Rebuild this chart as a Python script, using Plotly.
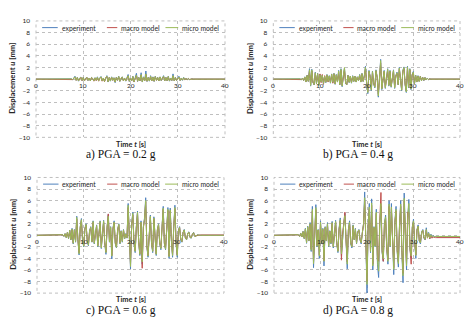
import plotly.graph_objects as go

# ---------------- data ----------------
# sampling grid: t = 0, then 5.00 ... 35.00 s every 0.25 s, then 40
TIME = [0.0] + [5.0 + 0.25 * i for i in range(121)] + [40.0]

# PGA = 0.2 g
A_EXP = [0,
         0, 0, 0, 0, 0, 0, 0, 0,
         0, 0, 0.05, -0.1, 0.2, 0.5, -0.2, 0.3,
         -0.35, 0.2, 0.35, -0.25, 0.3, -0.3, 0.15, 0.35,
         -0.25, 0.2, -0.3, 0.3, 0.1, -0.3, 0.25, -0.2,
         0.4, -0.3, 0.2, 0.45, -0.3, 0.2, -0.4, 0.3,
         0.6, -0.5, 0.3, -0.35, 0.4, -0.2, 0.25, -0.6,
         0.3, -0.2, 0.5, -0.4, 0.2, 0.4, -0.3, 0.2,
         -0.35, 0.3, 0.8, -0.4, 0.2, -0.3, 0.5, -0.5,
         0.3, 1.0, -0.4, 0.3, -0.3, 1.1, -0.5, 0.4,
         -0.3, 1.4, -0.4, 0.3, -0.35, 0.6, -0.3, 0.4,
         -0.4, 0.5, -0.2, 0.3, -0.3, 0.4, -0.25, 0.2,
         0.6, -0.3, 0.3, -0.3, 0.5, -0.35, 0.2, -0.25,
         0.9, -0.3, 0.3, -0.25, 0.2, 0.5, -0.25, 0.2,
         -0.2, 0.3, -0.15, 0.15, -0.1, 0.15, -0.1, 0.05,
         0.05, 0, 0, 0, 0, 0, 0, 0,
         0, 0]
A_MACRO = [0,
           0, 0, 0, 0, 0, 0, 0, 0,
           0, 0, 0.03, -0.08, 0.15, 0.3, -0.2, 0.25,
           -0.3, 0.15, 0.3, -0.25, 0.25, -0.3, 0.1, 0.3,
           -0.2, 0.15, -0.25, 0.25, 0.1, -0.35, 0.2, -0.25,
           0.3, -0.35, 0.15, 0.35, -0.35, 0.15, -0.45, 0.25,
           0.45, -0.4, 0.25, -0.3, 0.35, -0.2, 0.2, -0.5,
           0.25, -0.2, 0.4, -0.35, 0.15, 0.3, -0.3, 0.15,
           -0.3, 0.25, 0.55, -0.35, 0.15, -0.3, 0.4, -0.45,
           0.25, 0.6, -0.35, 0.25, -0.3, 0.7, -0.4, 0.3,
           -0.3, 0.8, -0.35, 0.25, -0.3, 0.45, -0.3, 0.3,
           -0.35, 0.4, -0.2, 0.25, -0.3, 0.35, -0.2, 0.15,
           0.45, -0.25, 0.25, -0.25, 0.4, -0.3, 0.15, -0.2,
           0.5, -0.25, 0.25, -0.2, 0.15, 0.3, -0.2, 0.15,
           -0.15, 0.2, -0.1, 0.1, -0.08, 0.1, -0.05, 0.03,
           0.02, 0, 0, 0, 0, 0, 0, 0,
           0, 0]
A_MICRO = [0,
           0, 0, 0, 0, 0, 0, 0, 0,
           0, 0, 0.04, -0.09, 0.18, 0.4, -0.2, 0.28,
           -0.3, 0.18, 0.3, -0.22, 0.28, -0.28, 0.12, 0.32,
           -0.22, 0.18, -0.28, 0.28, 0.1, -0.3, 0.22, -0.2,
           0.35, -0.3, 0.18, 0.4, -0.3, 0.18, -0.4, 0.28,
           0.5, -0.45, 0.28, -0.32, 0.35, -0.2, 0.22, -0.5,
           0.28, -0.2, 0.45, -0.35, 0.18, 0.35, -0.28, 0.18,
           -0.3, 0.28, 0.6, -0.35, 0.18, -0.28, 0.45, -0.45,
           0.28, 0.7, -0.35, 0.28, -0.3, 0.8, -0.45, 0.35,
           -0.3, 0.9, -0.35, 0.28, -0.32, 0.5, -0.3, 0.35,
           -0.35, 0.45, -0.2, 0.28, -0.3, 0.38, -0.22, 0.18,
           0.5, -0.28, 0.28, -0.28, 0.45, -0.3, 0.18, -0.22,
           0.6, -0.28, 0.28, -0.22, 0.18, 0.35, -0.22, 0.18,
           -0.18, 0.25, -0.12, 0.12, -0.08, 0.12, -0.08, 0.04,
           0.03, 0, 0, 0, 0, 0, 0, 0,
           0, 0]

# PGA = 0.4 g
B_EXP = [0,
         0, 0, 0, 0.05, -0.1, 0.2, -0.25, 0.4,
         -0.5, 0.7, -0.4, 1.8, -1.2, 1.7, -0.6, -1.0,
         1.2, -0.8, 1.0, -1.1, 0.8, -0.5, 0.7, -0.8,
         0.5, -0.6, 0.8, -0.4, 0.6, -0.7, 0.9, -0.6,
         1.0, -0.9, 0.8, -0.5, 1.5, -1.0, 1.8, -1.3,
         0.6, 1.9, -0.8, -1.0, 0.7, -0.6, 0.5, -0.7,
         0.6, -0.4, 0.5, -0.5, 0.4, -0.3, 0.8, -0.5,
         1.0, -0.4, 0.6, 2.2, -0.8, -2.5, 1.5, 0.5,
         -2.0, 1.4, -0.8, -1.5, 1.6, 0.4, -3.1, 1.0,
         3.4, -1.8, 0.6, 1.5, -1.6, 0.8, 1.8, -1.2,
         1.5, -1.4, 0.5, 1.6, -1.6, 0.6, 1.2, -1.0,
         2.0, -0.8, -2.0, 1.5, 2.1, -1.0, -2.3, 2.2,
         -1.5, 1.8, -1.8, 0.8, 1.3, -0.8, 0.7, -0.5,
         0.6, -0.4, 0.5, -0.3, 0.35, -0.25, 0.3, -0.15,
         0.2, -0.1, 0.05, 0, 0, 0, 0, 0,
         0, 0]
B_MACRO = [0,
           0, 0, 0, 0.04, -0.08, 0.15, -0.2, 0.35,
           -0.45, 0.6, -0.35, 1.4, -1.0, 1.4, -0.5, -0.9,
           1.0, -0.7, 0.9, -1.0, 0.9, -0.6, 0.8, -0.9,
           0.6, -0.5, 0.7, -0.5, 0.5, -0.6, 0.8, -0.7,
           0.9, -0.8, 0.7, -0.5, 1.2, -0.9, 1.5, -1.1,
           0.5, 1.6, -0.7, -0.9, 0.6, -0.5, 0.45, -0.6,
           0.5, -0.35, 0.45, -0.45, 0.35, -0.25, 0.7, -0.45,
           0.9, -0.35, 0.5, 1.8, -0.7, -2.1, 1.3, 0.4,
           -1.7, 1.2, -0.7, -1.3, 1.4, 0.3, -2.6, 0.9,
           2.8, -1.6, 0.5, 1.3, -1.4, 0.7, 1.5, -1.0,
           1.3, -1.2, 0.4, 1.4, -1.4, 0.5, 1.0, -0.9,
           1.7, -0.7, -1.8, 1.3, 1.8, -0.9, -2.0, 1.9,
           -1.3, 1.6, -1.6, 0.7, 1.1, -0.7, 0.6, -0.45,
           0.5, -0.35, 0.45, -0.25, 0.3, -0.2, 0.25, -0.12,
           0.15, -0.08, 0.04, 0, 0, 0, 0, 0,
           0, 0]
B_MICRO = [0,
           0, 0, 0, 0.05, -0.09, 0.18, -0.22, 0.38,
           -0.48, 0.65, -0.38, 1.6, -1.1, 1.6, -0.55, -0.95,
           1.1, -0.75, 0.95, -1.05, 0.75, -0.5, 0.65, -0.75,
           0.5, -0.55, 0.75, -0.4, 0.55, -0.65, 0.85, -0.55,
           0.95, -0.85, 0.75, -0.5, 1.4, -0.95, 1.7, -1.2,
           0.55, 2.0, -0.75, -0.95, 0.65, -0.55, 0.5, -0.65,
           0.55, -0.4, 0.5, -0.5, 0.4, -0.3, 0.75, -0.5,
           0.95, -0.4, 0.55, 2.0, -0.75, -2.3, 1.4, 0.45,
           -1.9, 1.3, -0.75, -1.4, 1.5, 0.35, -2.9, 0.95,
           3.2, -1.7, 0.55, 1.4, -1.5, 0.75, 1.7, -1.1,
           1.4, -1.3, 0.45, 1.5, -1.5, 0.55, 1.1, -0.95,
           1.9, -0.75, -1.9, 1.4, 2.0, -0.95, -2.2, 2.1,
           -1.4, 1.7, -1.7, 0.75, 1.2, -0.75, 0.65, -0.5,
           0.55, -0.4, 0.45, -0.3, 0.3, -0.2, 0.25, -0.15,
           0.15, -0.1, 0.05, 0, 0, 0, 0, 0,
           0, 0]

# PGA = 0.6 g
C_EXP = [0,
         0, 0, 0.1, -0.2, 0.3, -0.4, 0.5, -0.6,
         0.9, -0.8, 1.2, -1.5, 1.0, -1.2, 3.3, -0.8,
         -3.4, 1.5, 2.9, -1.0, -2.0, 1.2, 2.0, -1.0,
         -1.8, 0.8, 1.5, -1.2, 2.5, -1.5, 0.6, 1.8,
         -2.0, 1.0, 2.5, -2.3, 0.8, 2.6, -1.5, -3.3,
         1.5, 3.6, -1.2, 1.5, -4.1, 1.2, 2.5, -1.5,
         -2.2, 1.0, 2.0, -1.5, 0.8, -1.2, 1.0, -0.6,
         0.3, -0.5, 5.5, -1.5, -5.8, 2.0, 4.0, -1.5,
         -3.0, 1.5, 4.2, -1.2, -3.5, 2.5, -5.0, 1.5,
         3.0, 6.5, -2.0, -3.8, 1.5, 3.5, -1.5, -3.0,
         3.2, -1.0, -3.5, 1.0, 2.0, -1.5, -2.5, 1.5,
         5.0, -1.5, -2.5, 1.2, 4.8, -4.0, 4.7, -1.0,
         -3.8, 1.5, 5.2, -1.5, -3.8, 0.8, 1.5, -0.8,
         -1.2, 0.5, 1.0, -0.5, -0.8, 0.4, 0.6, -0.4,
         -0.5, 0.2, 0.5, -0.2, -0.2, 0.1, 0, 0,
         0, 0]
C_MACRO = [0,
           0, 0, 0.08, -0.15, 0.25, -0.35, 0.45, -0.5,
           0.8, -0.7, 1.0, -1.3, 0.9, -1.0, 2.8, -0.7,
           -3.0, 1.3, 2.6, -0.9, -1.8, 1.1, 1.8, -0.9,
           -1.6, 0.7, 1.3, -1.1, 2.2, -1.3, 0.5, 1.6,
           -1.8, 0.9, 2.2, -2.0, 0.7, 2.3, -1.3, -2.9,
           1.4, 3.7, -1.1, 1.3, -3.5, 1.1, 2.2, -1.3,
           -2.0, 0.9, 1.8, -1.3, 0.7, -1.0, 0.9, -0.5,
           0.2, -0.4, 4.8, -1.3, -5.0, 1.8, 3.5, -1.3,
           -2.7, 1.3, 3.8, -1.1, -3.2, 2.2, -5.7, 1.3,
           2.7, 5.8, -1.8, -3.5, 1.3, 3.2, -1.3, -2.7,
           2.9, -0.9, -3.2, 0.9, 1.8, -1.3, -2.2, 1.3,
           4.5, -1.3, -2.3, 1.1, 4.3, -3.6, 4.2, -0.9,
           -3.4, 1.3, 4.6, -1.3, -3.4, 0.7, 1.4, -0.7,
           -1.1, 0.5, 0.9, -0.5, -0.7, 0.35, 0.5, -0.35,
           -0.4, 0.2, 0.4, -0.15, -0.1, 0.05, 0.05, 0.05,
           0.05, 0.05]
C_MICRO = [0,
           0, 0, 0.1, -0.18, 0.28, -0.38, 0.48, -0.55,
           0.85, -0.75, 1.1, -1.4, 0.95, -1.1, 3.1, -0.75,
           -3.2, 1.4, 2.7, -0.95, -1.9, 1.15, 1.9, -0.95,
           -1.7, 0.75, 1.4, -1.15, 2.4, -1.4, 0.55, 1.7,
           -1.9, 0.95, 2.4, -2.2, 0.75, 2.5, -1.4, -3.0,
           1.45, 3.3, -1.15, 1.4, -3.6, 1.15, 2.3, -1.4,
           -2.1, 0.95, 1.9, -1.4, 0.75, -1.1, 0.95, -0.55,
           0.25, -0.45, 5.2, -1.4, -5.4, 1.9, 3.8, -1.4,
           -2.8, 1.4, 4.0, -1.15, -3.3, 2.3, -4.6, 1.4,
           2.8, 6.0, -1.9, -3.6, 1.4, 3.3, -1.4, -2.8,
           3.0, -0.95, -3.3, 0.95, 1.9, -1.4, -2.3, 1.4,
           4.7, -1.4, -2.4, 1.15, 4.5, -3.7, 4.4, -0.95,
           -3.5, 1.4, 4.8, -1.4, -3.5, 0.75, 1.4, -0.75,
           -1.1, 0.5, 0.95, -0.5, -0.75, 0.4, 0.55, -0.4,
           -0.45, 0.2, 0.45, -0.18, -0.18, 0.08, 0, 0,
           0, 0]

# PGA = 0.8 g
D_EXP = [0,
         0, 0.1, -0.2, 0.4, -0.3, 0.7, -0.6, 1.2,
         -1.4, 1.6, -1.0, 2.2, -2.8, 5.0, -5.6, 1.5,
         5.3, -2.0, 1.0, -4.0, 2.5, -1.5, 1.2, -5.3,
         1.5, -1.0, 2.2, -2.0, 0.8, -1.5, 2.4, -2.2,
         1.0, 2.6, -1.5, -3.0, 1.2, 3.0, -3.5, 0.5,
         2.0, 3.8, -1.0, -5.8, 1.0, 2.5, -1.5, -2.2,
         1.8, -0.8, 1.2, -1.5, 0.6, 1.0, -0.8, -1.5,
         0.5, 2.0, 7.5, -2.0, -10.0, 2.0, 5.5, -3.0,
         6.3, -6.0, 1.5, -2.0, 4.5, -5.0, -7.3, 2.0,
         5.0, -3.0, -4.5, 2.0, 3.5, -2.5, -5.0, 6.0,
         -2.0, 5.5, -3.0, -6.8, 2.5, 5.0, -3.0, -5.5,
         2.0, 6.0, -3.0, -8.2, 7.3, -2.0, -6.0, 3.0,
         6.2, -2.5, -4.0, 1.5, 2.8, -1.2, -4.0, 1.0,
         1.8, -1.0, -1.5, 0.6, 1.0, -0.5, -0.8, 1.3,
         -0.4, 0.5, -0.6, 0.2, -0.4, 0.0, -0.3, -0.2,
         -0.3, -0.3]
D_MACRO = [0,
           0, 0.08, -0.15, 0.3, -0.25, 0.6, -0.5, 1.0,
           -1.2, 1.4, -0.9, 1.9, -2.4, 4.2, -4.6, 1.3,
           4.4, -1.8, 0.9, -3.4, 2.1, -1.3, 1.0, -4.4,
           1.3, -0.9, 1.9, -1.8, 0.7, -1.3, 2.1, -1.9,
           0.9, 2.3, -1.3, -2.7, 1.0, 2.5, -4.3, 0.4,
           2.0, 4.0, -1.0, -4.6, 0.9, 2.1, -1.3, -1.9,
           1.6, -0.7, 1.0, -1.3, 0.5, 0.9, -0.7, -1.2,
           0.4, 1.8, 6.0, -1.8, -8.0, 1.8, 4.6, -2.6,
           5.2, -5.0, 1.3, -1.8, 3.8, -4.2, -4.5, 2.5,
           7.4, -2.6, -4.5, 1.8, 3.0, -2.2, -4.2, 5.0,
           -1.8, 4.6, -2.6, -5.6, 2.2, 4.2, -2.6, -4.6,
           1.8, 5.0, -2.6, -6.6, 6.0, -1.8, -5.0, 4.0,
           4.0, -2.2, -5.0, 1.3, 2.4, -1.0, -3.4, 0.9,
           1.5, -0.9, -1.2, 0.5, 0.8, -0.5, -0.7, 0.9,
           -0.5, 0.3, -0.6, -0.1, -0.5, -0.3, -0.4, -0.4,
           -0.4, -0.4]
D_MICRO = [0,
           0, 0.1, -0.18, 0.35, -0.28, 0.65, -0.55, 1.1,
           -1.3, 1.5, -0.95, 2.0, -2.6, 4.5, -4.9, 1.4,
           4.8, -1.9, 0.95, -3.6, 2.3, -1.4, 1.1, -4.5,
           1.4, -0.95, 2.0, -1.9, 0.75, -1.4, 2.2, -2.0,
           0.95, 2.4, -1.4, -2.8, 1.1, 2.7, -3.2, 0.45,
           1.9, 3.4, -0.95, -5.0, 0.95, 2.3, -1.4, -2.0,
           1.7, -0.75, 1.1, -1.4, 0.55, 0.95, -0.75, -1.3,
           0.45, 1.9, 6.5, -1.9, -8.5, 1.9, 4.9, -2.8,
           5.6, -5.3, 1.4, -1.9, 4.0, -4.5, -6.2, 2.2,
           5.5, -2.8, -4.1, 1.9, 3.2, -2.3, -4.5, 5.4,
           -1.9, 4.9, -2.8, -5.9, 2.3, 4.5, -2.8, -4.9,
           1.9, 5.4, -2.8, -7.0, 6.4, -1.9, -5.3, 3.2,
           5.5, -2.3, -3.6, 1.4, 2.5, -1.1, -3.5, 0.95,
           1.6, -0.95, -1.3, 0.55, 0.9, -0.45, -0.7, 1.0,
           -0.45, 0.4, -0.5, 0.1, -0.3, -0.1, -0.25, -0.2,
           -0.2, -0.2]

SERIES_NAMES = ["experiment", "macro model", "micro model"]
SERIES_COLORS = ["#4F81BD", "#C0504D", "#9BBB59"]
CAPTIONS = ["a) PGA = 0.2 g", "b) PGA = 0.4 g", "c) PGA = 0.6 g", "d) PGA = 0.8 g"]
X_TICKS = [0, 10, 20, 30, 40]
Y_TICKS = [-10, -8, -6, -4, -2, 0, 2, 4, 6, 8, 10]
PANEL_DATA = [(A_EXP, A_MACRO, A_MICRO), (B_EXP, B_MACRO, B_MICRO),
              (C_EXP, C_MACRO, C_MICRO), (D_EXP, D_MACRO, D_MICRO)]

# ---------------- layout geometry ----------------
W, H = 474, 324
# plot areas in pixels: (left, right, top, bottom)
PLOT_PX = [(36, 225, 17.3, 136.3), (273.3, 460, 17.3, 136.3),
           (37, 224, 177.3, 295.5), (274, 460, 177.3, 295.5)]

FONT = "Lato, 'Open Sans', sans-serif"
SERIF = "'Liberation Serif', 'DejaVu Serif', serif"
GRID = "#bfbfbf"
TXT = "#262626"

fig = go.Figure()
annotations = []
shapes = []
layout_axes = {}

for k, (vals, (l, r, t, b)) in enumerate(zip(PANEL_DATA, PLOT_PX)):
    sfx = "" if k == 0 else str(k + 1)
    xa, ya = "x" + sfx, "y" + sfx
    for name, col, v in zip(SERIES_NAMES, SERIES_COLORS, vals):
        fig.add_trace(go.Scatter(x=TIME[:len(v)], y=v, mode="lines", name=name,
                                 line=dict(color=col, width=1),
                                 xaxis=xa, yaxis=ya, showlegend=False,
                                 hoverinfo="skip"))
    layout_axes["xaxis" + sfx] = dict(
        domain=[l / W, r / W], range=[0, 40], anchor=ya,
        tickvals=X_TICKS, showticklabels=False, ticks="",
        showgrid=True, gridcolor=GRID, griddash="dot", gridwidth=1,
        zeroline=False, showline=False, fixedrange=True)
    layout_axes["yaxis" + sfx] = dict(
        domain=[1 - b / H, 1 - t / H], range=[-10, 10], anchor=xa,
        tickvals=Y_TICKS, ticks="", ticklabelstandoff=5,
        tickfont=dict(family=FONT, size=6.5, color=TXT),
        showgrid=True, gridcolor=GRID, griddash="dot", gridwidth=1,
        zeroline=False, showline=False, fixedrange=True)
    # frame
    shapes.append(dict(type="rect", xref=xa + " domain", yref=ya + " domain",
                       x0=0, x1=1, y0=0, y1=1,
                       line=dict(color=GRID, width=1, dash="dot"), layer="below"))
    # x tick labels at the zero line
    for tv in X_TICKS:
        annotations.append(dict(x=tv, y=0, xref=xa, yref=ya, text=str(tv),
                                showarrow=False, yanchor="middle", xanchor="center",
                                yshift=-6, font=dict(family=FONT, size=6.5, color=TXT)))
    # legend drawn inside the plot
    leg_items = [(1.3, 4.6, 5.0), (15.0, 17.2, 17.5), (27.4, 30.1, 30.5)]
    for (x0, x1, xt), name, col in zip(leg_items, SERIES_NAMES, SERIES_COLORS):
        shapes.append(dict(type="line", xref=xa, yref=ya, x0=x0, x1=x1, y0=8.85, y1=8.85,
                           line=dict(color=col, width=1)))
        annotations.append(dict(x=xt, y=8.85, xref=xa, yref=ya, text=name,
                                showarrow=False, xanchor="left", yanchor="middle",
                                font=dict(family=FONT, size=6.8, color=TXT)))
    # axis titles
    cx = (l + r) / 2
    annotations.append(dict(x=cx / W, y=1 - (b + 6.8) / H, xref="paper", yref="paper",
                            text="<b>Time <i>t</i> [s]</b>", showarrow=False,
                            xanchor="center", yanchor="middle",
                            font=dict(family=FONT, size=7.4, color=TXT)))
    annotations.append(dict(x=(l - 23.5) / W, y=1 - ((t + b) / 2 - 1) / H, xref="paper", yref="paper",
                            text="<b>Displacement <i>u</i> [mm]</b>", showarrow=False,
                            textangle=-90, xanchor="center", yanchor="middle",
                            font=dict(family=FONT, size=7.6, color=TXT)))
    # caption
    annotations.append(dict(x=(l - 8 + (r - l) * 0.5 - 1) / W, y=1 - (b + 17.5) / H,
                            xref="paper", yref="paper",
                            text=CAPTIONS[k], showarrow=False,
                            xanchor="center", yanchor="middle",
                            font=dict(family=SERIF, size=11.5, color="#111111")))

fig.update_layout(
    width=W, height=H, margin=dict(l=0, r=0, t=0, b=0),
    paper_bgcolor="white", plot_bgcolor="white",
    showlegend=False, annotations=annotations, shapes=shapes,
    **layout_axes)

fig.write_html("out.html", config={"displayModeBar": False})
